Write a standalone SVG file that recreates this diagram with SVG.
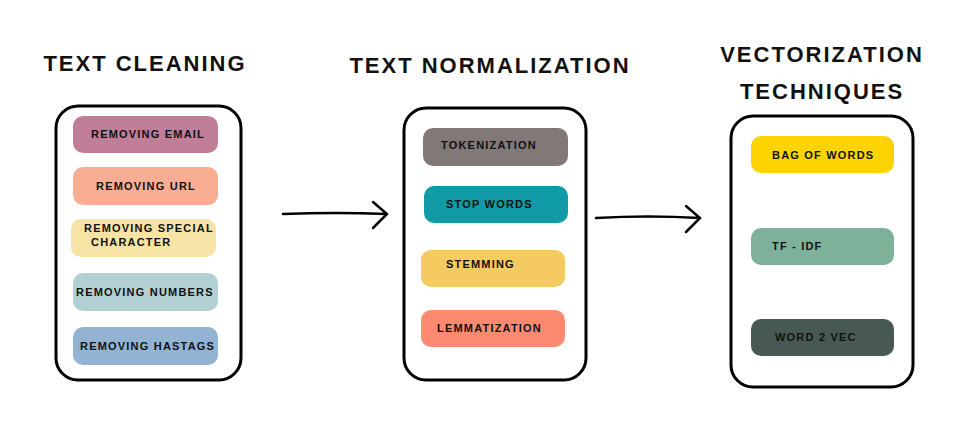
<svg xmlns="http://www.w3.org/2000/svg" width="977" height="444" viewBox="0 0 977 444">
<style>
.t{font-family:"Liberation Sans",Arial,sans-serif;font-weight:bold;font-size:22px;fill:#111;text-anchor:middle;letter-spacing:2px}
.l{font-family:"Liberation Sans",Arial,sans-serif;font-weight:bold;font-size:11px;fill:#111;letter-spacing:1.2px}
.box{fill:#fff;stroke:#000;stroke-width:3}
.c{stroke:#000;stroke-width:2.5;fill:none;stroke-linecap:round}
</style>
<rect width="977" height="444" fill="#fff"/>
<text class="t" x="145" y="71">TEXT CLEANING</text>
<text class="t" x="490" y="73">TEXT NORMALIZATION</text>
<text class="t" x="822" y="62">VECTORIZATION</text>
<text class="t" x="822" y="99">TECHNIQUES</text>
<g id="cleaning">
<rect class="box" x="56" y="106" width="185" height="274" rx="22"/>
<rect x="73" y="116" width="145" height="37" rx="10" fill="#c07e99"/><text class="l" x="91" y="138">REMOVING EMAIL</text>
<rect x="73" y="167" width="145" height="38" rx="10" fill="#f9ae94"/><text class="l" x="96" y="190">REMOVING URL</text>
<rect x="71" y="219" width="145" height="38" rx="10" fill="#f7e3a5"/><text class="l" x="84" y="232">REMOVING  SPECIAL</text><text class="l" x="91" y="246">CHARACTER</text>
<rect x="73" y="273" width="145" height="38" rx="10" fill="#b2d0d3"/><text class="l" x="76" y="296">REMOVING  NUMBERS</text>
<rect x="73" y="327" width="145" height="38" rx="10" fill="#92b4d2"/><text class="l" x="80" y="350">REMOVING HASTAGS</text>
</g>
<g id="normalization">
<rect class="box" x="404" y="108" width="182" height="272" rx="22"/>
<rect x="423" y="128" width="145" height="38" rx="10" fill="#817878"/><text class="l" x="441" y="149">TOKENIZATION</text>
<rect x="424" y="186" width="144" height="37" rx="10" fill="#0f9aa6"/><text class="l" x="446" y="208">STOP WORDS</text>
<rect x="421" y="250" width="144" height="37" rx="10" fill="#f5ca60"/><text class="l" x="446" y="268">STEMMING</text>
<rect x="421" y="310" width="144" height="37" rx="10" fill="#fd8a70"/><text class="l" x="437" y="332">LEMMATIZATION</text>
</g>
<g id="vectorization">
<rect class="box" x="731" y="116" width="182" height="271" rx="22"/>
<rect x="751" y="136" width="143" height="37" rx="10" fill="#fdd300"/><text class="l" x="772" y="159">BAG OF WORDS</text>
<rect x="751" y="228" width="143" height="37" rx="10" fill="#7fb09a"/><text class="l" x="772" y="250">TF - IDF</text>
<rect x="751" y="319" width="143" height="37" rx="10" fill="#485955"/><text class="l" x="775" y="341">WORD 2 VEC</text>
</g>
<g id="connectors">
<path class="c" d="M283 214 Q335 212 387 214 M373 202 L387 214 L373 228"/>
<path class="c" d="M596 218 Q648 215 700 218 M686 206 L700 218 L686 232"/>
</g>
</svg>
